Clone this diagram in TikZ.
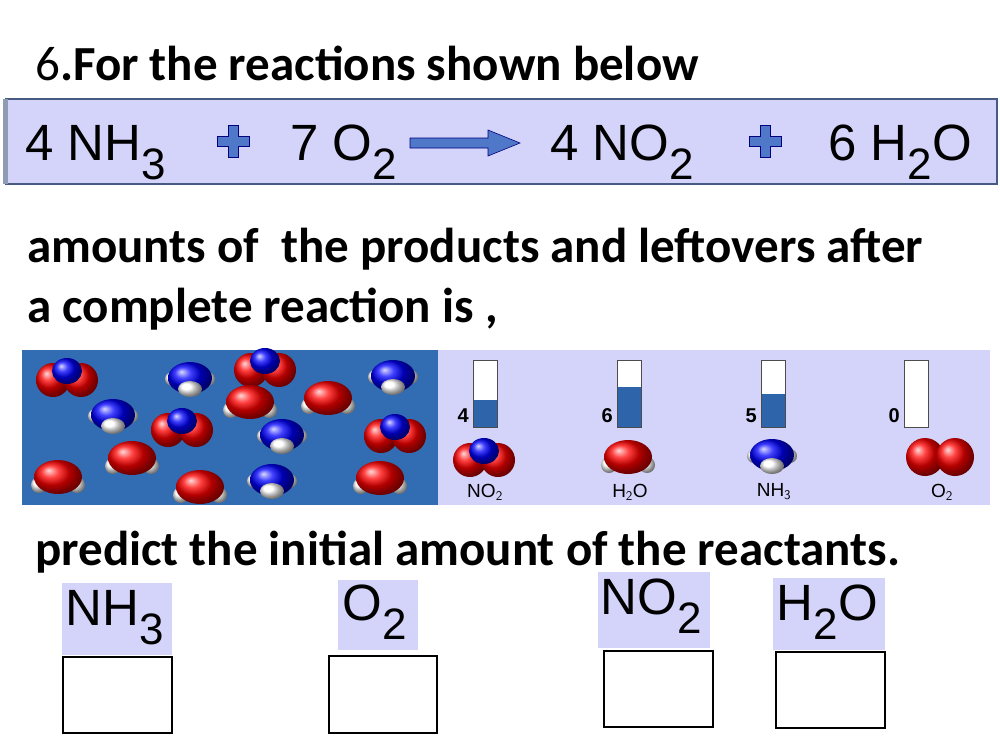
\documentclass[tikz,border=0pt]{standalone}
\usepackage{fontspec}
\setmainfont{Carlito}
\newfontfamily\arial{Liberation Sans}
\definecolor{lav}{RGB}{212,212,250}
\definecolor{panelblue}{RGB}{50,108,178}
\definecolor{frame}{RGB}{70,90,130}
\definecolor{plusblue}{RGB}{80,120,200}
\definecolor{barblue}{RGB}{45,100,170}
\tikzset{
  big/.style={font=\fontsize{49}{54}\selectfont\bfseries, anchor=base west, inner sep=0},
  eq/.style={font=\arial\fontsize{51}{55}\selectfont, anchor=base west, inner sep=0},
  sub/.style={font=\arial\fontsize{44}{48}\selectfont, anchor=base west, inner sep=0},
  small/.style={font=\arial\fontsize{19}{21}\selectfont, inner sep=0},
  ansbox/.style={draw=black, line width=1.6pt, fill=white},
  red/.style={ball color=red},
  blu/.style={ball color=blue},
  wht/.style={ball color=white},
  no2/.pic={\shade[red] (-14,3) circle (17);\shade[red] (14,3) circle (17);\shade[blu] (0,-6) ellipse (15 and 13);},
  nh3/.pic={\shade[wht] (-18,-1) circle (7);\shade[wht] (18,-1) circle (7);\shade[blu] (0,-2) ellipse (22 and 16);\shade[wht] (0,9) ellipse (12 and 8);},
  h2o/.pic={\shade[wht] (-19,8) circle (8);\shade[wht] (19,8) circle (8);\shade[red] (0,0) ellipse (24 and 17);},
  o2/.pic={\shade[red] (-15,0) circle (19);\shade[red] (15,0) circle (19);},
  plus/.pic={\fill[plusblue,draw=blue!50!black,line width=0.6pt] (-5,-16)--(5,-16)--(5,-5)--(16,-5)--(16,5)--(5,5)--(5,16)--(-5,16)--(-5,5)--(-16,5)--(-16,-5)--(-5,-5)--cycle;}
}
\begin{document}
\begin{tikzpicture}[x=1pt,y=-1pt]
\useasboundingbox (0,0) rectangle (1000,750);
\fill[white] (0,0) rectangle (1000,750);
\node[big] (title) at (35,80) {\mdseries 6\bfseries.For the reactions shown below};
% equation
\draw[fill=lav, draw=frame, line width=2pt] (6,99) rectangle (997,184);
\fill[frame!60] (3,99) rectangle (8,184);
\node[eq] (e1) at (25,160) {4 NH};
\node[sub] at (e1.base east) {\raisebox{-0.45em}{3}};
\pic at (233,141) {plus};
\node[eq] (e2) at (290,160) {7 O};
\node[sub] at (e2.base east) {\raisebox{-0.45em}{2}};
\fill[plusblue,draw=blue!50!black,line width=0.6pt] (410,138)--(488,138)--(488,130)--(520,143)--(488,156)--(488,148)--(410,148)--cycle;
\node[eq] (e3) at (550,160) {4 NO};
\node[sub] at (e3.base east) {\raisebox{-0.45em}{2}};
\pic at (765,141) {plus};
\node[eq] (e4) at (828,160) {6 H};
\node[sub] (e4s) at (e4.base east) {\raisebox{-0.45em}{2}};
\node[eq] at (e4s.base east) {O};
% text
\node[big] (t2) at (27,262) {amounts of\ \ the products and leftovers after};
\node[big] (t3) at (27,322) {a complete reaction is ,};
% panels
\fill[panelblue] (22,350) rectangle (438,505);
\fill[lav] (438,350) rectangle (990,505);
\foreach \p in {(67,377),(265,367),(182,427),(395,433)} \pic at \p {no2};
\foreach \p in {(190,380),(393,378),(113,417),(282,437),(272,482)} \pic at \p {nh3};
\foreach \p in {(250,402),(328,398),(132,458),(58,477),(200,487),(380,478)} \pic at \p {h2o};
% bars
\foreach \x/\f/\n in {473/400/4,617/387/6,761/394/5,904/427/0}{
  \draw[fill=white,draw=black!70,line width=0.8pt] (\x,360) rectangle (\x+24,427);
  \fill[barblue] (\x+0.5,\f) rectangle (\x+23.5,426.5);
  \draw[draw=black!70,line width=0.8pt] (\x,360) rectangle (\x+24,427);
  \node[small,font=\arial\fontsize{20}{22}\selectfont\bfseries,anchor=base east] at (\x-4,422) {\n};
}
\pic at (484,457) {no2};
\pic at (628,457) {h2o};
\pic at (772,457) {nh3};
\pic at (940,457) {o2};
\node[small] (l1) at (485,492) {NO$_{\mathsf 2}$};
\node[small] (l2) at (630,492) {H$_{\mathsf 2}$O};
\node[small] (l3) at (774,492) {NH$_{\mathsf 3}$};
\node[small] (l4) at (942,492) {O$_{\mathsf 2}$};
\node[big] (t4) at (35,565) {predict the initial amount of the reactants.};
% labels
\fill[lav] (62,583) rectangle (172,655);
\node[eq] (a1) at (65,625) {NH};
\node[sub] at (a1.base east) {\raisebox{-0.45em}{3}};
\fill[lav] (338,580) rectangle (418,650);
\node[eq] (a2) at (342,620) {O};
\node[sub] at (a2.base east) {\raisebox{-0.45em}{2}};
\fill[lav] (598,572) rectangle (710,648);
\node[eq] (a3) at (600,614) {NO};
\node[sub] at (a3.base east) {\raisebox{-0.45em}{2}};
\fill[lav] (773,578) rectangle (885,650);
\node[eq] (a4) at (776,620) {H};
\node[sub] (a4s) at (a4.base east) {\raisebox{-0.45em}{2}};
\node[eq] at (a4s.base east) {O};
\draw[ansbox] (63,657) rectangle (172,733);
\draw[ansbox] (329,656) rectangle (437,733);
\draw[ansbox] (604,651) rectangle (713,727);
\draw[ansbox] (776,652) rectangle (885,728);
\end{tikzpicture}
\end{document}
